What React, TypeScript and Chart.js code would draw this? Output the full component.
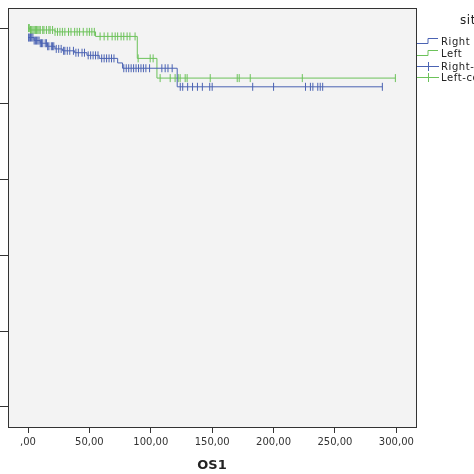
import React, { useEffect, useRef } from "react";
import { Chart, registerables } from "chart.js";

Chart.register(...registerables);

// Kaplan–Meier step data (time, survival after event)
const rightTimes = [0, 5, 10, 16, 22, 28, 38, 48, 58, 73, 77, 121.5, 288.6];
const rightSurv = [0.975, 0.967, 0.96, 0.952, 0.945, 0.94, 0.935, 0.928, 0.92, 0.908, 0.894, 0.845, 0.845];
const leftTimes = [0, 1.5, 22, 55, 89, 105, 299.2];
const leftSurv = [1.0, 0.995, 0.99, 0.978, 0.92, 0.868, 0.868];

// censoring times
const rightCensored = [
  0.5, 1, 2, 3, 4, 5, 6, 7, 8, 9, 10, 11, 12, 14, 15, 16, 17, 19, 20, 21, 23, 25, 27, 29, 30, 32, 34, 37, 39,
  41, 44, 46, 49, 51, 53, 55, 57, 60, 62, 64, 66, 68, 70, 78, 80, 82, 84, 86, 88, 90, 92, 94, 96, 99, 109,
  111.7, 114, 117.4, 124, 126, 130, 134, 138, 142, 148, 150, 183, 200, 226, 230, 232, 236, 238, 240, 288.6,
];
const leftCensored = [
  0.5, 1, 2, 3, 4, 5, 6, 7, 8, 9, 10, 12, 13, 15, 17, 18, 20, 22, 24, 26, 28, 30, 33, 35, 38, 40, 42, 45, 48,
  50, 52, 54, 58.7, 62, 65, 68.5, 71, 73, 75.8, 78, 80.7, 83, 87.2, 89.7, 99.5, 101.9, 107.6, 115.8, 119.8,
  122.3, 123.9, 128, 129.6, 148.4, 170.4, 172, 181, 223.4, 299.2,
];

const xTickValues = [0, 50, 100, 150, 200, 250, 300];
const yTickValues = [0, 0.2, 0.4, 0.6, 0.8, 1.0];

const legendTitle = "site";
const legendLabels = ["Right", "Left", "Right-censored", "Left-censored"];

const BLUE = "#4b63b3";
const GREEN = "#6cc25a";

function survAt(times: number[], surv: number[], t: number) {
  let s = surv[0];
  for (let i = 0; i < times.length; i++) {
    if (times[i] <= t) s = surv[i];
  }
  return s;
}

const bgPlugin = {
  id: "plotBg",
  beforeDraw(chart: any) {
    const { ctx, chartArea: a } = chart;
    ctx.save();
    ctx.fillStyle = "#f3f3f3";
    ctx.fillRect(a.left, a.top, a.right - a.left, a.bottom - a.top);
    ctx.restore();
  },
  afterDraw(chart: any) {
    const { ctx, chartArea: a } = chart;
    ctx.save();
    ctx.strokeStyle = "#333333";
    ctx.lineWidth = 1;
    ctx.strokeRect(a.left + 0.5, a.top + 0.5, a.right - a.left, a.bottom - a.top);
    // legend
    ctx.fillStyle = "#222222";
    ctx.textBaseline = "middle";
    ctx.font = '12px "DejaVu Sans"';
    (ctx as any).letterSpacing = "0.6px";
    ctx.fillText(legendTitle, 460, 21);
    ctx.font = '10px "DejaVu Sans"';
    (ctx as any).letterSpacing = "0.6px";
    const ys = [41, 53, 66, 77];
    const cols = [BLUE, GREEN, BLUE, GREEN];
    for (let i = 0; i < 4; i++) {
      const y = ys[i];
      ctx.strokeStyle = cols[i];
      ctx.beginPath();
      if (i < 2) {
        ctx.moveTo(417, y + 2.5);
        ctx.lineTo(428, y + 2.5);
        ctx.lineTo(428, y - 2.5);
        ctx.lineTo(438, y - 2.5);
      } else {
        ctx.moveTo(417, y + 0.5);
        ctx.lineTo(439, y + 0.5);
        ctx.moveTo(428.5, y - 4);
        ctx.lineTo(428.5, y + 5);
      }
      ctx.stroke();
      ctx.fillStyle = "#222222";
      ctx.fillText(legendLabels[i], 441, y + 1);
    }
    ctx.restore();
  },
};

export default function App() {
  const ref = useRef<HTMLCanvasElement>(null);
  useEffect(() => {
    if (!ref.current) return;
    const chart = new Chart(ref.current, {
      type: "line",
      data: {
        datasets: [
          {
            label: legendLabels[0],
            data: rightTimes.map((t, i) => ({ x: t, y: rightSurv[i] })),
            borderColor: BLUE,
            borderWidth: 1,
            stepped: "before",
            pointRadius: 0,
            fill: false,
          },
          {
            label: legendLabels[1],
            data: leftTimes.map((t, i) => ({ x: t, y: leftSurv[i] })),
            borderColor: GREEN,
            borderWidth: 1,
            stepped: "before",
            pointRadius: 0,
            fill: false,
          },
          {
            label: legendLabels[2],
            data: rightCensored.map((t) => ({ x: t, y: survAt(rightTimes, rightSurv, t) })),
            showLine: false,
            pointStyle: "line",
            rotation: 90,
            pointRadius: 4,
            borderColor: BLUE,
            borderWidth: 1,
          },
          {
            label: legendLabels[3],
            data: leftCensored.map((t) => ({ x: t, y: survAt(leftTimes, leftSurv, t) })),
            showLine: false,
            pointStyle: "line",
            rotation: 90,
            pointRadius: 4,
            borderColor: GREEN,
            borderWidth: 1,
          },
        ] as any,
      },
      options: {
        animation: false,
        responsive: false,
        events: [],
        layout: { padding: { left: 0, top: 8, right: 58, bottom: 0 } },
        plugins: { legend: { display: false }, tooltip: { enabled: false } },
        scales: {
          x: {
            type: "linear",
            min: -16.3,
            max: 316,
            afterBuildTicks: (s: any) => {
              s.ticks = xTickValues.map((v) => ({ value: v }));
            },
            afterFit: (s: any) => {
              s.height = 47;
            },
            grid: { drawOnChartArea: false, tickLength: 6, color: "#333333" },
            border: { display: true, color: "#333333" },
            ticks: {
              color: "#333333",
              font: { family: "DejaVu Sans", size: 10 },
              padding: 3,
              maxRotation: 0,
              callback: (v: any) => (v === 0 ? ",00" : Number(v).toFixed(2).replace(".", ",")),
            },
            title: {
              display: true,
              text: "OS1",
              color: "#222222",
              font: { family: "DejaVu Sans", size: 13, weight: "bold" },
              padding: { top: 0, bottom: 1 },
            },
          },
          y: {
            type: "linear",
            min: -0.053,
            max: 1.053,
            afterBuildTicks: (s: any) => {
              s.ticks = yTickValues.map((v) => ({ value: v }));
            },
            afterFit: (s: any) => {
              s.width = 8;
            },
            grid: { drawOnChartArea: false, tickLength: 8, color: "#333333" },
            border: { display: true, color: "#333333" },
            ticks: { display: false },
          },
        },
      },
      plugins: [bgPlugin],
    } as any);
    return () => chart.destroy();
  }, []);
  return (
    <div style={{ position: "fixed", left: 0, top: 0, width: 474, height: 474, background: "#fff" }}>
      <canvas ref={ref} width={474} height={474} style={{ display: "block" }} />
    </div>
  );
}
